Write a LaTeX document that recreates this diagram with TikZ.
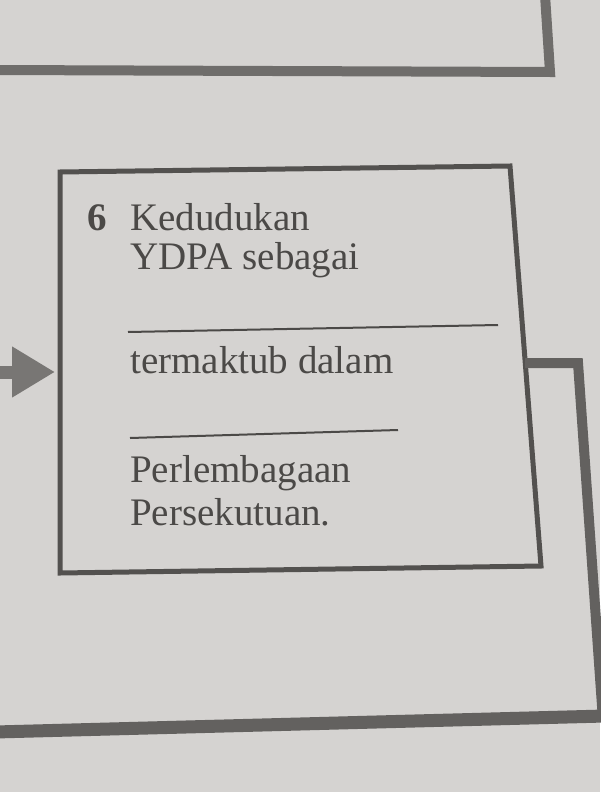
\documentclass[tikz,border=0pt]{standalone}
\usepackage{fontspec}
\setmainfont{Liberation Serif}
\usetikzlibrary{arrows.meta}
\definecolor{paper}{HTML}{D5D3D1}
\definecolor{inkgray}{HTML}{4B4947}
\definecolor{framegray}{HTML}{53514F}
\definecolor{flowgray}{HTML}{63615F}
\definecolor{topgray}{HTML}{6F6D6B}
\definecolor{arrowgray}{HTML}{787674}
\begin{document}
\begin{tikzpicture}[x=1pt,y=-1pt,
    textline/.style ={anchor=base west, inner sep=0pt, text=inkgray, font=\fontsize{39}{39}\selectfont},
    numeral/.style ={textline, font=\fontsize{39}{39}\selectfont\bfseries},
    blank/.style ={draw=inkgray, line width=2pt},
    frame/.style ={draw=framegray, line width=5pt, line join=miter},
    flow/.style ={draw=flowgray, line width=10pt, line join=miter}]
   \fill[paper] (0,0) rectangle (600,792);
   \useasboundingbox (0,0) rectangle (600,792);

   \coordinate (prevA) at (-5,70);
   \coordinate (prevB) at (550,72);
   \coordinate (prevC) at (545,-5);
   \draw[flow, draw=topgray] (prevA) -- (prevB) -- (prevC);

   \coordinate (TL) at (60,172);
   \coordinate (TR) at (510,166);
   \coordinate (BR) at (541,566);
   \coordinate (BL) at (60,573);
   \draw[frame] (TL) -- (TR) -- (BR) -- (BL) -- cycle;

   \node[numeral]  (six) at (87,230)  {6};
   \node[textline] (L1)  at (130,230) {Kedudukan};
   \node[textline] (L2)  at (130,269) {YDPA sebagai};
   \node[textline] (L3)  at (130,373) {termaktub dalam};
   \node[textline] (L4)  at (130,482) {Perlembagaan};
   \node[textline] (L5)  at (130,525) {Persekutuan.};

   \coordinate (blankA) at (128,332);
   \coordinate (blankB) at (498,325);
   \coordinate (blankC) at (130,438);
   \coordinate (blankD) at (398,430);
   \draw[blank] (blankA) to (blankB);
   \draw[blank] (blankC) to (blankD);

   \coordinate (inStart) at (-5,372);
   \coordinate (inTip)   at (55,372);
   \draw[draw=arrowgray, fill=arrowgray, line width=13pt,
         -{Triangle[length=43pt,width=48pt]}] (inStart) to (inTip);

   \coordinate (outStart) at (525,363);
   \coordinate (outCorner) at (578,363);
   \coordinate (outEnd) at (603,720);
   \draw[flow] (outStart) -- (outCorner) -- (outEnd);

   \coordinate (nextA) at (-5,732);
   \coordinate (nextB) at (605,716);
   \draw[flow, line width=13pt] (nextA) to (nextB);
 \end{tikzpicture}
\end{document}
